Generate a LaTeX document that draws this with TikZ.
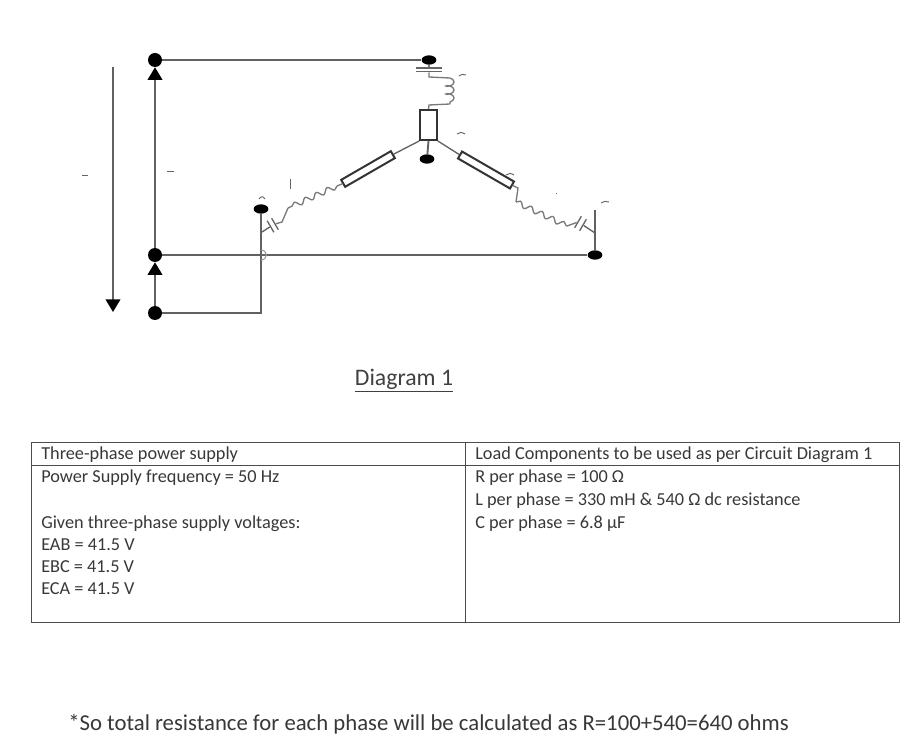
\documentclass[tikz,border=0pt]{standalone}
\usepackage{fontspec}
\setmainfont{Carlito}
\usetikzlibrary{arrows.meta,decorations.pathmorphing,shapes.geometric}

\begin{document}
\begin{tikzpicture}[%
    x=0.75pt,
    y=-0.75pt,
    >={Triangle[length=9.5pt,width=11pt,color=black]},
    wire/.style={draw=black!62,line width=1.4pt},
    thinwire/.style={draw=black!52,line width=1pt},
    dot/.style={circle,fill=black,inner sep=0pt,minimum size=10.5pt},
    flatdot/.style={ellipse,fill=black,inner sep=0pt,minimum width=11pt,minimum height=7pt},
    res/.style={rectangle,draw=black!80,line width=1.5pt,fill=white,inner sep=0pt},
    plate/.style={rectangle,fill=black!60,inner sep=0pt,minimum height=1pt},
    coil/.style={thinwire,decorate,decoration={snake,segment length=9pt,amplitude=2pt}},
    vcoil/.style={thinwire,decorate,decoration={coil,aspect=0.5,segment length=6pt,amplitude=3pt}},
    cell/.style={rectangle,draw=black!70,line width=0.8pt,inner sep=0pt,anchor=north west},
    txt/.style={anchor=base west,inner sep=0pt,text=black!78,font=\fontsize{13.7}{16}\selectfont},
    stray/.style={draw=black!60,line width=0.7pt}
    ]

    \useasboundingbox (0,0) rectangle (916,752);

    % supply terminals
    \node[dot] (A) at (155,60) {};
    \node[dot] (B) at (155,255) {};
    \node[dot] (C) at (155,313) {};
    \coordinate (vtop) at (113,67);
    \coordinate (vbot) at (113,312);

    % load terminals
    \node[flatdot] (Ta) at (429,60) {};
    \node[flatdot] (Tb) at (261,209) {};
    \node[flatdot] (Tc) at (595,255) {};
    \node[flatdot] (N) at (427,159) {};
    \coordinate (Tctop) at (595,210);

    % resistors
    \node[res,minimum width=12.5pt,minimum height=22.5pt] (Ra) at (428.5,125) {};
    \node[res,minimum width=43pt,minimum height=6pt,rotate=30] (Rb) at (368,169) {};
    \node[res,minimum width=45pt,minimum height=6pt,rotate=-30] (Rc) at (486,170) {};

    % capacitors
    \node[plate,minimum width=20pt] (Ca1) at (429,68) {};
    \node[plate,minimum width=20pt] (Ca2) at (429,71.5) {};
    \node[plate,minimum width=10pt,rotate=120] (Cb1) at (270.5,226.5) {};
    \node[plate,minimum width=10pt,rotate=120] (Cb2) at (275,224) {};
    \node[plate,minimum width=10pt,rotate=60] (Cc1) at (578,222) {};
    \node[plate,minimum width=10pt,rotate=60] (Cc2) at (583,225) {};

    % coil end points
    \coordinate (La1) at (429,77);
    \coordinate (La2) at (450,78);
    \coordinate (La3) at (450,104);
    \coordinate (La4) at (429,105);
    \coordinate (Lb1) at (337,186);
    \coordinate (Lb2) at (288,208);
    \coordinate (Lb3) at (282,222);
    \coordinate (Lc1) at (518,188);
    \coordinate (Lc2) at (516,202);
    \coordinate (Lc3) at (567,226);
    \coordinate (Jb) at (262,232);
    \coordinate (Jc) at (595,233);

    \draw[wire] (A) -- (Ta);
    \draw[wire] (B) -- (Tc);
    \draw[wire] (Tb) |- (C);
    \draw[wire] (Tctop) -- (Tc);
    \draw[wire,<-] (A) -- (B);
    \draw[wire,<-] (B) -- (C);
    \draw[wire,->] (vtop) -- (vbot);

    % phase a
    \draw[thinwire] (Ta) -- (Ca1);
    \draw[thinwire] (Ca2) -- (La1) -- (La2);
    \draw[vcoil] (La2) -- (La3);
    \draw[thinwire] (La3) -- (La4) -- (Ra.north);
    \draw[wire] (Ra.south) -- (N);

    % phase b
    \draw[wire,line width=1pt] (Ra.south west) -- (Rb.east);
    \draw[thinwire] (Rb.west) -- (Lb1);
    \draw[coil] (Lb1) -- (Lb2);
    \draw[thinwire] (Lb2) -- (Lb3) -- (Cb2);
    \draw[wire,line width=1pt] (Cb1) -- (Jb);

    % phase c
    \draw[wire,line width=1pt] (Ra.south east) -- (Rc.west);
    \draw[thinwire] (Rc.east) -- (Lc1) -- (Lc2);
    \draw[coil] (Lc2) -- (Lc3);
    \draw[thinwire] (Lc3) -- (Cc1);
    \draw[wire,line width=1pt] (Cc2) -- (Jc);

    % hop over the neutral line
    \draw[draw=black!40,line width=0.8pt] (261,250) .. controls (268,250) and (268,260) .. (261,260);

    % leftover marks
    \draw[stray] (82,175) -- (88,175);
    \draw[stray] (167,171) -- (174,171);
    \draw[stray] (290,179) -- (290,189);
    \draw[stray] (259,199) .. controls (261,196) and (263,196) .. (265,199);
    \draw[stray] (459,76) .. controls (461,74) and (463,74) .. (466,75);
    \draw[stray] (457,134) .. controls (459,132) and (462,132) .. (465,134);
    \draw[stray] (506,175) .. controls (508,173) and (511,173) .. (514,175);
    \draw[stray] (555.5,193) -- (556.5,193);
    \draw[stray] (601,203) .. controls (603,201) and (606,201) .. (609,202);

    % caption
    \node[inner sep=0pt,text=black!75,font=\fontsize{17.8}{20}\selectfont] (caption) at (404,381) {\underline{Diagram 1}};

    % table
    \node[cell,minimum width=325.5pt,minimum height=17.25pt] (headL) at (31,442) {};
    \node[cell,minimum width=325.5pt,minimum height=17.25pt] (headR) at (465,442) {};
    \node[cell,minimum width=325.5pt,minimum height=117.75pt] (bodyL) at (31,465) {};
    \node[cell,minimum width=325.5pt,minimum height=117.75pt] (bodyR) at (465,465) {};

    \node[txt] (supply) at (41,459) {Three-phase power supply};
    \node[txt] (freq) at (41,482) {Power Supply frequency = 50 Hz};
    \node[txt] (given) at (41,528) {Given three-phase supply voltages:};
    \node[txt] (eab) at (41,550) {EAB = 41.5 V};
    \node[txt] (ebc) at (41,572) {EBC = 41.5 V};
    \node[txt] (eca) at (41,594) {ECA = 41.5 V};

    \node[txt] (load) at (475,459) {Load Components to be used as per Circuit Diagram 1};
    \node[txt] (rval) at (475,482) {R per phase = 100 Ω};
    \node[txt] (lval) at (475,505) {L per phase = 330 mH \& 540 Ω dc resistance};
    \node[txt] (cval) at (475,528) {C per phase = 6.8 µF};

    % note
    \node[txt,font=\fontsize{17.05}{20}\selectfont] (note) at (68,730) {*So total resistance for each phase will be calculated as R=100+540=640 ohms};

\end{tikzpicture}
\end{document}
